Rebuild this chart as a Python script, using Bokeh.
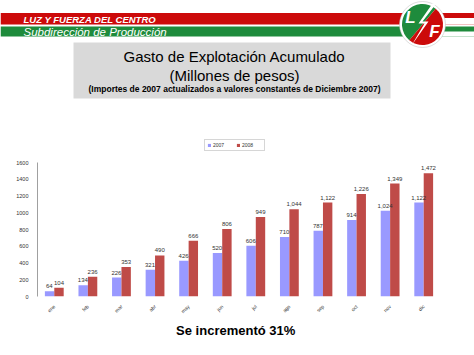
import math
from bokeh.plotting import figure
from bokeh.models import ColumnDataSource, Range1d, FactorRange, FixedTicker, Legend, LegendItem
from bokeh.transform import dodge
from bokeh.layouts import column
from bokeh.core.properties import value
from bokeh.embed import file_html
from bokeh.resources import INLINE

# ---------------- data ----------------
months = ["ene", "feb", "mar", "abr", "may", "jun", "jul", "ago", "sep", "oct", "nov", "dic"]
v2007 = [64, 134, 226, 321, 426, 520, 606, 710, 787, 914, 1024, 1122]
v2008 = [104, 236, 353, 490, 666, 806, 949, 1044, 1122, 1226, 1349, 1472]
y_ticks = [0, 200, 400, 600, 800, 1000, 1200, 1400, 1600]
series_names = ["2007", "2008"]

title1 = "Gasto de Explotación Acumulado"
title2 = "(Millones de pesos)"
subtitle = "(Importes de 2007 actualizados a valores constantes de Diciembre 2007)"
org1 = "LUZ Y FUERZA DEL CENTRO"
org2 = "Subdirección de Producción"
footer_text = "Se incrementó  31%"

RED = "#CC0A0A"
GREEN = "#1E8B3C"
BLUE_BAR = "#9999FF"
RED_BAR = "#BF4B48"
FONT = "Liberation Sans"

W = 474
H_HEAD = 110
H_CHART = 210
H_FOOT = 355 - H_HEAD - H_CHART

# ---------------- header ----------------
hd = figure(width=W, height=H_HEAD, x_range=Range1d(0, W), y_range=Range1d(0, H_HEAD),
            output_backend="svg", toolbar_location=None, min_border=0,
            outline_line_color=None)
hd.axis.visible = False
hd.grid.visible = False
hd.frame_align = False

def Y(py):
    return H_HEAD - py

# bands
hd.quad(left=[0], right=[W], top=[Y(12.5)], bottom=[Y(24)], color=RED, line_color=None)
hd.quad(left=[0], right=[W], top=[Y(26)], bottom=[Y(36)], color=GREEN, line_color=None)
hd.quad(left=[440], right=[W], top=[Y(17.5)], bottom=[Y(24)], color="white", line_color=None)
hd.quad(left=[440], right=[W], top=[Y(31)], bottom=[Y(36)], color="white", line_color=None)

hd.text(x=[23], y=[Y(18.5)], text=[org1], text_color="white", text_font=value(FONT),
        text_font_size="9.5px", text_font_style="bold italic", text_baseline="middle")
hd.text(x=[23], y=[Y(31)], text=[org2], text_color="white", text_font=value(FONT),
        text_font_size="11.5px", text_font_style="italic", text_baseline="middle")

# logo
cx, cy = 422, Y(24)
hd.circle(x=[cx], y=[cy], radius=23, fill_color="white", line_color="#BBBBBB", line_width=0.5)
hd.wedge(x=[cx], y=[cy], radius=20.5, start_angle=math.radians(50), end_angle=math.radians(230),
         color=GREEN, line_color=None)
hd.wedge(x=[cx], y=[cy], radius=20.5, start_angle=math.radians(230), end_angle=math.radians(410),
         color=RED, line_color=None)
bolt_x = [432, 418, 424, 411, 428, 422, 435]
bolt_y = [Y(3), Y(23), Y(23), Y(45), Y(21), Y(21), Y(4)]
hd.patch(x=bolt_x, y=bolt_y, color="white", line_color=None)
hd.text(x=[410], y=[Y(17)], text=["L"], text_color="white", text_font=value(FONT),
        text_font_size="17px", text_font_style="bold italic", text_align="center", text_baseline="middle")
hd.text(x=[434], y=[Y(31)], text=["F"], text_color="white", text_font=value(FONT),
        text_font_size="17px", text_font_style="bold italic", text_align="center", text_baseline="middle")

# title box
hd.quad(left=[73], right=[390], top=[Y(42)], bottom=[Y(98)], color="#D9D9D9", line_color=None)
hd.text(x=[234], y=[Y(56)], text=[title1], text_color="black", text_font=value(FONT),
        text_font_size="15px", text_align="center", text_baseline="middle")
hd.text(x=[234], y=[Y(75)], text=[title2], text_color="black", text_font=value(FONT),
        text_font_size="15px", text_align="center", text_baseline="middle")
hd.text(x=[234], y=[Y(88.5)], text=[subtitle], text_color="black", text_font=value(FONT),
        text_font_size="8.5px", text_font_style="bold", text_align="center", text_baseline="middle")

# ---------------- chart ----------------
src = ColumnDataSource(dict(
    m=months, v2007=v2007, v2008=v2008,
    l2007=[f"{v:,}" for v in v2007], l2008=[f"{v:,}" for v in v2008],
))

Y_TOP = 1912   # frame extends above the 1600 axis end to hold the legend

p = figure(width=W, height=H_CHART, x_range=FactorRange(factors=months, range_padding=0),
           y_range=Range1d(0, Y_TOP), output_backend="svg", toolbar_location=None,
           min_border_left=37, min_border_right=34, min_border_top=26, min_border_bottom=24,
           outline_line_color=None)
p.grid.visible = False
p.frame_align = False

r1 = p.vbar(x=dodge("m", -0.14, range=p.x_range), top="v2007", width=0.28, source=src,
            fill_color=BLUE_BAR, line_color=None)
r2 = p.vbar(x=dodge("m", 0.14, range=p.x_range), top="v2008", width=0.28, source=src,
            fill_color=RED_BAR, line_color=None)

p.text(x=dodge("m", -0.15, range=p.x_range), y="v2007", text="l2007", source=src,
       text_font=value(FONT), text_font_size="6px", text_color="#333333",
       text_align="center", text_baseline="bottom", y_offset=-3)
p.text(x=dodge("m", 0.14, range=p.x_range), y="v2008", text="l2008", source=src,
       text_font=value(FONT), text_font_size="6px", text_color="#333333",
       text_align="center", text_baseline="bottom", y_offset=-3)

p.yaxis.ticker = FixedTicker(ticks=y_ticks)
p.yaxis.bounds = (y_ticks[0], y_ticks[-1])
p.yaxis.axis_line_color = "#A0A0A0"
p.yaxis.major_tick_line_color = None
p.yaxis.minor_tick_line_color = None
p.yaxis.major_label_text_font = FONT
p.yaxis.major_label_text_font_size = "5.5px"
p.yaxis.major_label_text_color = "#333333"
p.yaxis.major_label_standoff = 3

p.xaxis.axis_line_color = None
p.xaxis.major_tick_line_color = None
p.xaxis.minor_tick_line_color = None
p.xaxis.major_label_orientation = math.pi / 4
p.xaxis.major_label_text_font = FONT
p.xaxis.major_label_text_font_size = "5px"
p.xaxis.major_label_text_color = "#333333"
p.xaxis.major_label_standoff = 3

legend = Legend(items=[LegendItem(label=series_names[0], renderers=[r1]),
                       LegendItem(label=series_names[1], renderers=[r2])],
                orientation="horizontal", location=(167, 145),
                glyph_width=4, glyph_height=4, label_text_font=FONT,
                label_text_font_size="5px", label_text_color="#333333",
                label_standoff=2, spacing=3, padding=2, margin=0,
                border_line_color="#999999", border_line_alpha=0.4,
                background_fill_alpha=0, label_height=5)
p.add_layout(legend)

# ---------------- footer ----------------
ft = figure(width=W, height=H_FOOT, x_range=Range1d(0, W), y_range=Range1d(0, H_FOOT),
            output_backend="svg", toolbar_location=None, min_border=0, outline_line_color=None)
ft.axis.visible = False
ft.grid.visible = False
ft.frame_align = False
ft.text(x=[237], y=[H_FOOT - 10], text=[footer_text], text_font=value(FONT),
        text_font_size="13px", text_font_style="bold", text_color="black",
        text_align="center", text_baseline="middle")

layout = column(hd, p, ft, spacing=0)
open("out.html", "w").write(file_html(layout, INLINE))
